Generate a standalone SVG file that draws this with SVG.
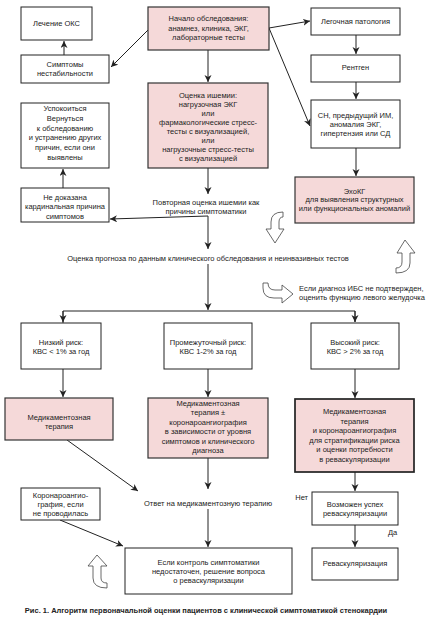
<svg xmlns="http://www.w3.org/2000/svg" width="426" height="617" viewBox="0 0 426 617">
<defs>
<style>
text{font-family:"Liberation Sans",Arial,sans-serif;font-size:7.5px;fill:#222;text-anchor:middle}
.w{fill:#fff;stroke:#222;stroke-width:1}
.p{fill:#f5d9d9;stroke:#333;stroke-width:1.2}
.pt{fill:#f5d9d9;stroke:#222;stroke-width:1.7}
.c line,.c polyline{stroke:#222;stroke-width:1;fill:none}
.a{marker-end:url(#ah)}
.h{fill:#fff;stroke:#444;stroke-width:0.8}
.cap{font-weight:bold;font-size:7.5px}
</style>
<marker id="ah" markerUnits="userSpaceOnUse" markerWidth="9" markerHeight="8" refX="7" refY="3.5" orient="auto">
<path d="M0,0 L7,3.5 L0,7 L2,3.5 Z" fill="#222"/>
</marker>
</defs>
<rect width="426" height="617" fill="#fff"/>

<g class="c" id="connectors">
<line class="a" x1="64" y1="55" x2="64" y2="41"/>
<line class="a" x1="148" y1="30" x2="111" y2="67"/>
<line class="a" x1="269" y1="28" x2="310" y2="21"/>
<line class="a" x1="269" y1="28" x2="310" y2="126"/>
<line class="a" x1="208" y1="50" x2="208" y2="82"/>
<line class="a" x1="356" y1="35" x2="356" y2="54"/>
<line class="a" x1="356" y1="82" x2="356" y2="99"/>
<line class="a" x1="356" y1="148" x2="356" y2="176"/>
<line class="a" x1="208" y1="168" x2="208" y2="194"/>
<line class="a" x1="208" y1="216" x2="110" y2="219"/>
<line class="a" x1="208" y1="216" x2="208" y2="249"/>
<line class="a" x1="63" y1="188" x2="63" y2="169"/>
<line class="a" x1="208" y1="264" x2="208" y2="310"/>
<polyline points="63,323 63,311 355,311 355,322"/>
<line class="a" x1="63" y1="311" x2="63" y2="322"/>
<line class="a" x1="355" y1="311" x2="355" y2="322"/>
<line class="a" x1="63" y1="369" x2="63" y2="397"/>
<line class="a" x1="208" y1="369" x2="208" y2="397"/>
<line class="a" x1="355" y1="369" x2="355" y2="398"/>
<line class="a" x1="67" y1="440" x2="138" y2="491"/>
<line class="a" x1="208" y1="458" x2="208" y2="489"/>
<line class="a" x1="208" y1="509" x2="208" y2="547"/>
<line class="a" x1="60" y1="520" x2="123" y2="546"/>
<line class="a" x1="355" y1="472" x2="355" y2="491"/>
<line class="a" x1="355" y1="525" x2="355" y2="547"/>
</g>

<g id="hollow-arrows">
<path class="h" d="M283,212 Q271,212 271,222 L271,229 L266,229 L275,243 L284,229 L279,229 L279,222 Q279,217 283,217 Z"/>
<path class="h" d="M405,240 L415,253 L410,253 L410,263 Q410,273 396,273 L396,268 Q402,268 402,262 L402,253 L397,253 Z"/>
<path class="h" d="M263,283 L268,283 Q268,290 275,290 L282,290 L282,285 L293,294 L282,303 L282,298 L274,298 Q263,298 263,288 Z"/>
<path class="h" d="M97,555 L107,566 L101,566 L101,578 Q101,583 107,583 L107,588 Q93,588 93,578 L93,566 L88,566 Z"/>
</g>

<g id="n-lechenie"><rect class="w" x="21" y="7" width="71" height="33"/><text x="56.5" y="26">Лечение ОКС</text></g>
<g id="n-simptomy"><rect class="w" x="21" y="55" width="88" height="28"/><text x="65" y="66.5">Симптомы</text><text x="65" y="75.5">нестабильности</text></g>
<g id="n-nachalo"><rect class="p" x="148" y="7" width="121" height="43"/><text x="208.5" y="21">Начало обследования:</text><text x="208.5" y="30.5">анамнез, клиника, ЭКГ,</text><text x="208.5" y="40">лабораторные тесты</text></g>
<g id="n-ishemia"><rect class="p" x="148" y="83" width="120" height="85"/>
<text x="208" y="98">Оценка ишемии:</text><text x="208" y="107">нагрузочная ЭКГ</text><text x="208" y="116">или</text><text x="208" y="125">фармакологические стресс-</text><text x="208" y="134">тесты с визуализацией,</text><text x="208" y="143">или</text><text x="208" y="152">нагрузочные стресс-тесты</text><text x="208" y="161">с визуализацией</text></g>
<g id="n-uspokoitsya"><rect class="w" x="21" y="103" width="88" height="65"/>
<text x="65" y="111">Успокоиться</text><text x="65" y="120.5">Вернуться</text><text x="65" y="130.5">к обследованию</text><text x="65" y="140">и устранению других</text><text x="65" y="149.5">причин, если они</text><text x="65" y="160">выявлены</text></g>
<g id="n-nedokazana"><rect class="w" x="21" y="188" width="88" height="34"/><text x="65" y="199.5">Не доказана</text><text x="65" y="209">кардинальная причина</text><text x="65" y="218.5">симптомов</text></g>
<g id="n-legochnaya"><rect class="w" x="311" y="8" width="89" height="27"/><text x="355.5" y="23.5">Легочная патология</text></g>
<g id="n-rentgen"><rect class="w" x="311" y="55" width="89" height="27"/><text x="355.5" y="69.5">Рентген</text></g>
<g id="n-sn"><rect class="w" x="311" y="100" width="89" height="48"/><text x="355.5" y="118">СН, предыдущий ИМ,</text><text x="355.5" y="127">аномалия ЭКГ,</text><text x="355.5" y="136">гипертензия или СД</text></g>
<g id="n-echokg"><rect class="p" x="295" y="177" width="119" height="46"/><text x="354.5" y="193.5">ЭхоКГ</text><text x="354.5" y="202">для выявления структурных</text><text x="354.5" y="211">или функциональных аномалий</text></g>

<g id="t-povtornaya"><text x="206" y="204.5">Повторная оценка ишемии как</text><text x="206" y="213.5">причины симптоматики</text></g>
<g id="t-prognoz"><text x="208" y="261">Оценка прогноза по данным клинического обследования и неинвазивных тестов</text></g>
<g id="t-ibs"><text x="299" y="290.5" style="text-anchor:start">Если диагноз ИБС не подтвержден,</text><text x="299" y="299.5" style="text-anchor:start">оценить функцию левого желудочка</text></g>

<g id="n-low"><rect class="w" x="21" y="323" width="80" height="46"/><text x="61" y="344.5">Низкий риск:</text><text x="61" y="354">КВС &lt; 1% за год</text></g>
<g id="n-mid"><rect class="w" x="164" y="323" width="88" height="46"/><text x="208" y="344.5">Промежуточный риск:</text><text x="208" y="354">КВС 1-2% за год</text></g>
<g id="n-high"><rect class="w" x="311" y="323" width="88" height="46"/><text x="355" y="344.5">Высокий риск:</text><text x="355" y="354">КВС &gt; 2% за год</text></g>

<g id="n-med-low"><rect class="p" x="5" y="398" width="108" height="42"/><text x="59" y="419.5">Медикаментозная</text><text x="59" y="429">терапия</text></g>
<g id="n-med-mid"><rect class="p" x="148" y="398" width="120" height="60"/>
<text x="208" y="405.5">Медикаментозная</text><text x="208" y="415">терапия ±</text><text x="208" y="424.5">коронароангиография</text><text x="208" y="434">в зависимости от уровня</text><text x="208" y="443.5">симптомов и клинического</text><text x="208" y="453">диагноза</text></g>
<g id="n-med-high"><rect class="pt" x="295" y="399" width="119" height="73"/>
<text x="354.5" y="414">Медикаментозная</text><text x="354.5" y="423.5">терапия</text><text x="354.5" y="433">и коронароангиография</text><text x="354.5" y="442.5">для стратификации риска</text><text x="354.5" y="452">и оценки потребности</text><text x="354.5" y="461.5">в реваскуляризации</text></g>

<g id="t-otvet"><text x="208" y="505.5">Ответ на медикаментозную терапию</text></g>
<g id="n-koronaro"><rect class="w" x="21" y="488" width="79" height="32"/><text x="60.5" y="498">Коронароангио-</text><text x="60.5" y="507">графия, если</text><text x="60.5" y="516">не проводилась</text></g>
<g id="n-vozmozhen"><rect class="w" x="312" y="492" width="86" height="33"/><text x="355" y="507">Возможен успех</text><text x="355" y="516">реваскуляризации</text></g>
<g id="t-net"><text x="308" y="500" style="text-anchor:end">Нет</text></g>
<g id="t-da"><text x="388" y="535" style="text-anchor:start">Да</text></g>
<g id="n-revask"><rect class="w" x="312" y="548" width="86" height="32"/><text x="355" y="566">Реваскуляризация</text></g>
<g id="n-kontrol"><rect class="w" x="125" y="548" width="167" height="46"/><text x="208.5" y="564.5">Если контроль симптоматики</text><text x="208.5" y="573.5">недостаточен, решение вопроса</text><text x="208.5" y="582.5">о реваскуляризации</text></g>

<text class="cap" x="206" y="612.5">Рис. 1. Алгоритм первоначальной оценки пациентов с клинической симптоматикой стенокардии</text>
</svg>
